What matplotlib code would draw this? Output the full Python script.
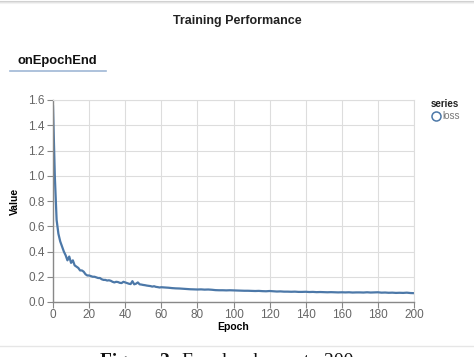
import matplotlib
matplotlib.use("Agg")
import matplotlib.pyplot as plt
from matplotlib.lines import Line2D

# ---- data ----
epochs_a = list(range(0, 61))
loss_a = [1.55, 1.00, 0.65, 0.54, 0.48, 0.44, 0.40, 0.37, 0.33, 0.36,
          0.31, 0.33, 0.29, 0.28, 0.27, 0.25, 0.25, 0.24, 0.22, 0.21,
          0.21, 0.205, 0.20, 0.20, 0.195, 0.19, 0.19, 0.18, 0.175, 0.175,
          0.17, 0.172, 0.168, 0.16, 0.155, 0.16, 0.158, 0.152, 0.15, 0.16,
          0.155, 0.15, 0.145, 0.142, 0.165, 0.14, 0.145, 0.155, 0.14, 0.138,
          0.135, 0.133, 0.13, 0.128, 0.126, 0.122, 0.125, 0.12, 0.118, 0.115,
          0.117]
epochs_b = list(range(62, 201, 2))
loss_b = [0.115, 0.113, 0.110, 0.108, 0.107, 0.105, 0.103, 0.101, 0.100, 0.099,
          0.100, 0.098, 0.099, 0.097, 0.094, 0.093, 0.093, 0.092, 0.093, 0.092,
          0.091, 0.090, 0.089, 0.089, 0.088, 0.087, 0.088, 0.086, 0.085, 0.087,
          0.085, 0.083, 0.084, 0.082, 0.082, 0.081, 0.082, 0.080, 0.080, 0.081,
          0.079, 0.080, 0.078, 0.079, 0.078, 0.077, 0.078, 0.077, 0.076, 0.077,
          0.076, 0.077, 0.075, 0.076, 0.076, 0.075, 0.077, 0.075, 0.076, 0.077,
          0.074, 0.075, 0.073, 0.074, 0.072, 0.073, 0.072, 0.074, 0.071, 0.070]
epochs = epochs_a + epochs_b
loss = loss_a + loss_b

x_ticks = [0, 20, 40, 60, 80, 100, 120, 140, 160, 180, 200]
y_ticks = [0.0, 0.2, 0.4, 0.6, 0.8, 1.0, 1.2, 1.4, 1.6]
series_name = "loss"

plt.rcParams['font.family'] = ['Liberation Sans', 'DejaVu Sans']

W, H = 474, 357
fig = plt.figure(figsize=(W / 100, H / 100), dpi=100)
fig.patch.set_facecolor('white')

ax = fig.add_axes([53 / W, 1 - 302 / H, (414 - 53) / W, (302 - 100) / H])
line_color = '#4c78a8'
ax.plot(epochs, loss, color=line_color, lw=1.6, solid_joinstyle='round')
ax.set_xlim(0, 200)
ax.set_ylim(0, 1.6)
ax.set_xticks(x_ticks)
ax.set_yticks(y_ticks)
ax.set_xticklabels([str(t) for t in x_ticks])
ax.set_yticklabels([f"{t:.1f}" for t in y_ticks])
ax.grid(True, color='#dddddd', lw=0.8)
ax.set_axisbelow(True)
for s in ['top', 'right']:
    ax.spines[s].set_color('#dddddd')
    ax.spines[s].set_linewidth(0.8)
for s in ['left', 'bottom']:
    ax.spines[s].set_color('#888888')
    ax.spines[s].set_linewidth(1.0)
ax.tick_params(axis='both', direction='out', length=4, width=0.8,
               color='#888888', labelcolor='#666666', labelsize=8.5)
ax.tick_params(axis='x', pad=1)
ax.tick_params(axis='y', pad=2)
ax.set_xlabel('Epoch', fontsize=7.5, fontweight='bold')
ax.set_ylabel('Value', fontsize=7.5, fontweight='bold')
ax.xaxis.set_label_coords(0.5, (302 - 327) / 202)
ax.yaxis.set_label_coords((15 - 53) / 361, 0.5)
ax.xaxis.label.set_va('center')
ax.yaxis.label.set_va('center')

# titles
fig.text(237 / W, 1 - 21 / H, 'Training Performance', ha='center', va='center',
         fontsize=9, fontweight='bold', color='#222222')
fig.text(18 / W, 1 - 61 / H, 'onEpochEnd', ha='left', va='center',
         fontsize=9.4, fontweight='bold', color='#111111')
fig.add_artist(Line2D([10 / W, 106 / W], [1 - 71 / H, 1 - 71 / H],
                      color='#9fb8d6', lw=1.2))

# legend
fig.text(431 / W, 1 - 104 / H, 'series', ha='left', va='center',
         fontsize=7, fontweight='bold', color='#222222')
fig.add_artist(Line2D([436 / W], [1 - 116.5 / H], marker='o', markersize=6.5,
                      markerfacecolor='none', markeredgecolor=line_color,
                      markeredgewidth=1.1, linestyle='none'))
fig.text(442 / W, 1 - 116.5 / H, series_name, ha='left', va='center',
         fontsize=7, color='#777777')

# page decoration: top shadow, separator, caption (clipped at the bottom like the reference)
for i, c in enumerate(['#d0d0d0', '#e4e4e4', '#f2f2f2']):
    fig.add_artist(Line2D([0, 1], [1 - (i + 0.5) / H] * 2, color=c, lw=0.8))
fig.add_artist(Line2D([0, 1], [1 - 346 / H] * 2, color='#e6e6e6', lw=1.0))
serif = ['Liberation Serif', 'DejaVu Serif']
fig.text(176 / W, 1 - 362 / H, 'Figure 2:', ha='right', va='center',
         fontsize=14, fontweight='bold', family=serif, color='#111111')
fig.text(182 / W, 1 - 362 / H, 'Epochs chosen to 200', ha='left', va='center',
         fontsize=14, family=serif, color='#111111')

fig.savefig('out.png', dpi=100, facecolor='white')
